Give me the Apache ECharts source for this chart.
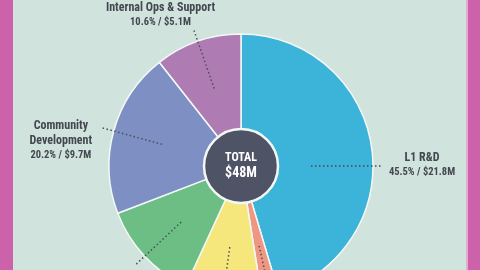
<!DOCTYPE html>
<html>
<head>
<meta charset="utf-8">
<script src="https://cdn.jsdelivr.net/npm/echarts@6/dist/echarts.min.js"></script>
<style>
  html, body { margin: 0; padding: 0; width: 480px; height: 270px; overflow: hidden; background: #cc62aa; }
  #panel { position: absolute; left: 13px; top: 0; width: 453px; height: 270px; background: #d0e3dd; border-right: 2px solid #e6a9d2; }
  #chart { position: absolute; left: 0; top: 0; width: 480px; height: 270px; }
</style>
</head>
<body>
<div id="panel"></div>
<div id="chart"></div>
<script>
// Budget allocation ($M), clockwise from 12 o'clock
const names = ['L1 R&D', 'Slice B', 'Slice C', 'Slice D', 'Community\nDevelopment', 'Internal Ops & Support'];
const valuesM = [21.8, 1.0, 4.5, 5.9, 9.7, 5.1];
const percents = ['45.5%', '2.1%', '9.4%', '12.3%', '20.2%', '10.6%'];
const colors = ['#3cb3d8', '#ee9783', '#f6e77c', '#6cbe85', '#7d8fc3', '#ae7cb3'];
const totalLabel = ['TOTAL', '$48M'];

const total = valuesM.reduce((a, b) => a + b, 0);
const CX = 241, CY = 166;
const fontFam = '"Roboto Condensed", sans-serif';
const textColor = '#43474f';

const data = names.map((n, i) => ({ name: n, value: valuesM[i], itemStyle: { color: colors[i] } }));
const labelData = names.map((n, i) => ({
  name: n, value: valuesM[i],
  label: { formatter: () => '{n|' + n + '}\n{v|' + percents[i] + ' / $' + valuesM[i].toFixed(1) + 'M}' }
}));

const chart = echarts.init(document.getElementById('chart'), null, { renderer: 'canvas' });
chart.setOption({
  animation: false,
  series: [
    {
      type: 'pie', center: [CX, CY], radius: [36, 132], startAngle: 90, clockwise: true, z: 2,
      silent: true, label: { show: false }, labelLine: { show: false },
      itemStyle: { borderColor: '#f3f8f6', borderWidth: 1.5 },
      data: data
    },
    {
      type: 'pie', center: [CX, CY], radius: [36, 82], startAngle: 90, clockwise: true, z: 5,
      silent: true, avoidLabelOverlap: false,
      itemStyle: { color: 'rgba(0,0,0,0)', borderWidth: 0 },
      label: {
        show: true, position: 'outside', color: textColor, fontFamily: fontFam,
        rich: {
          n: { fontSize: 12, fontWeight: 'bold', color: textColor, fontFamily: fontFam, lineHeight: 15, align: 'center' },
          v: { fontSize: 10.5, fontWeight: 'bold', color: textColor, fontFamily: fontFam, lineHeight: 15, align: 'center' }
        }
      },
      labelLine: { show: true, length: 63, length2: 0, lineStyle: { color: '#4a4e56', width: 1.5, type: [1.5, 2.5] } },
      labelLayout: function (p) {
        const pts = p.labelLinePoints;
        if (!pts) return {};
        const end = pts[pts.length - 1];
        const w = p.labelRect.width;
        if (p.dataIndex === 0) {
          return {
            x: CX + 181, y: CY - 1, align: 'center', verticalAlign: 'middle',
            labelLinePoints: [[CX + 70, CY], [CX + 141, CY], [CX + 141, CY]]
          };
        }
        if (p.dataIndex === 5) {
          return { x: end[0] - 33, y: end[1] - 14, align: 'center', verticalAlign: 'middle', labelLinePoints: pts };
        }
        if (p.dataIndex === 4) {
          return { x: end[0] - 9 - w / 2, y: end[1] + 13, align: 'center', verticalAlign: 'middle', labelLinePoints: pts };
        }
        const right = end[0] > CX;
        return { x: right ? end[0] + 5 + w / 2 : end[0] - 5 - w / 2, y: end[1] + 60, align: 'center', verticalAlign: 'middle', labelLinePoints: pts };
      },
      data: labelData
    },
    {
      type: 'pie', center: [CX, CY], radius: [0, 37], silent: true, z: 6,
      itemStyle: { color: '#4f5366', borderColor: '#f3f8f6', borderWidth: 2.5 },
      label: {
        show: true, position: 'center', formatter: '{t|' + totalLabel[0] + '}\n{m|' + totalLabel[1] + '}',
        rich: {
          t: { color: '#ffffff', fontFamily: fontFam, fontWeight: 'bold', fontSize: 12, lineHeight: 15 },
          m: { color: '#ffffff', fontFamily: fontFam, fontWeight: 'bold', fontSize: 14, lineHeight: 17 }
        }
      },
      labelLine: { show: false },
      data: [{ name: 'Total', value: total }]
    }
  ]
});
</script>
</body>
</html>
